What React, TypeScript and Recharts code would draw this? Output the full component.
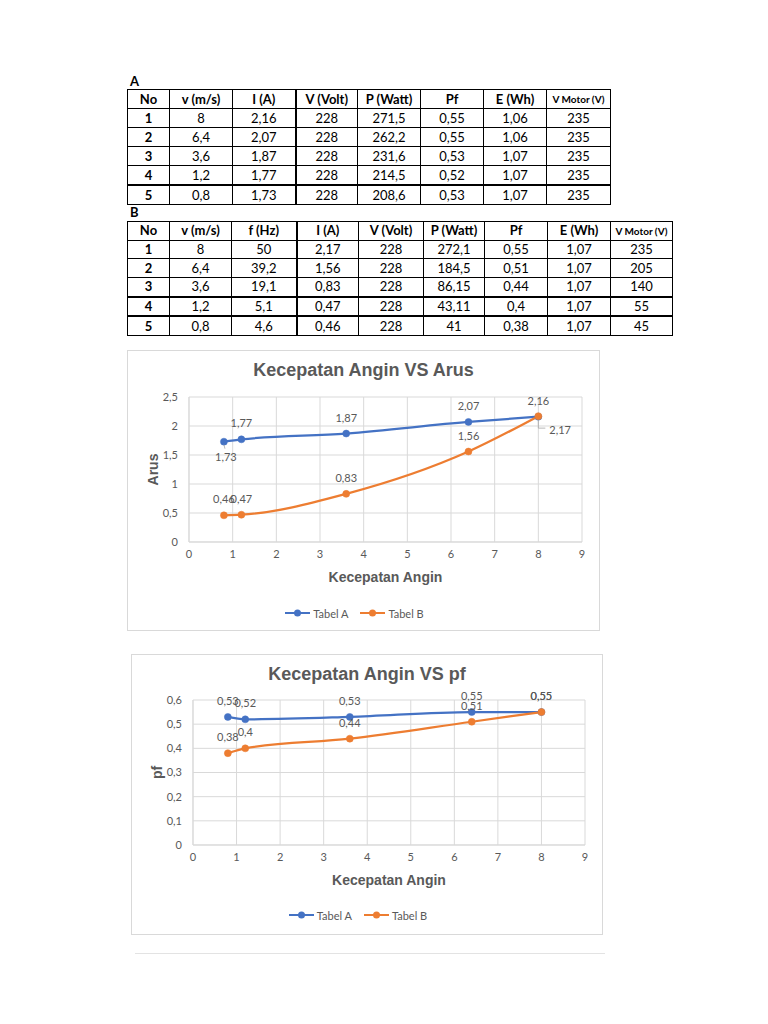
import React from "react";
import {
  LineChart,
  Line,
  XAxis,
  YAxis,
  CartesianGrid,
  Legend,
  LabelList,
  Label,
} from "recharts";

const NOS = [1, 2, 3, 4, 5];
const SPEED = [8, 6.4, 3.6, 1.2, 0.8];

const A_CURRENT = [2.16, 2.07, 1.87, 1.77, 1.73];
const A_VOLT = [228, 228, 228, 228, 228];
const A_POWER = [271.5, 262.2, 231.6, 214.5, 208.6];
const A_PF = [0.55, 0.55, 0.53, 0.52, 0.53];
const A_ENERGY = [1.06, 1.06, 1.07, 1.07, 1.07];
const A_VMOTOR = [235, 235, 235, 235, 235];

const B_FREQ = [50, 39.2, 19.1, 5.1, 4.6];
const B_CURRENT = [2.17, 1.56, 0.83, 0.47, 0.46];
const B_VOLT = [228, 228, 228, 228, 228];
const B_POWER = [272.1, 184.5, 86.15, 43.11, 41];
const B_PF = [0.55, 0.51, 0.44, 0.4, 0.38];
const B_ENERGY = [1.07, 1.07, 1.07, 1.07, 1.07];
const B_VMOTOR = [235, 205, 140, 55, 45];

const HEAD_A = ["No", "v (m/s)", "I (A)", "V (Volt)", "P (Watt)", "Pf", "E (Wh)", "V Motor (V)"];
const HEAD_B = ["No", "v (m/s)", "f (Hz)", "I (A)", "V (Volt)", "P (Watt)", "Pf", "E (Wh)", "V Motor (V)"];

const X_TICKS = [0, 1, 2, 3, 4, 5, 6, 7, 8, 9];
const ARUS_TICKS = [0, 0.5, 1, 1.5, 2, 2.5];
const PF_TICKS = [0, 0.1, 0.2, 0.3, 0.4, 0.5, 0.6];
const SERIES = ["Tabel A", "Tabel B"];

// where each data label sits, in table order
const ARUS_LABEL_A = ["top", "top", "top", "top", "bottom"];
const ARUS_LABEL_B = ["right", "top", "top", "top", "top"];
const PF_LABEL_A = ["top", "top", "top", "top", "top"];
const PF_LABEL_B = ["top", "top", "top", "top", "top"];

const BLUE = "#4472C4";
const ORANGE = "#ED7D31";
const GRID = "#D9D9D9";
const TEXT = "#595959";
const COLORS = [BLUE, ORANGE];

const fmt = (v: number) => String(v).replace(".", ",");

// charts need ascending x
const order = SPEED.map((_, i) => i).sort((p, q) => SPEED[p] - SPEED[q]);
const arusRows = order.map((i) => ({ i, v: SPEED[i], a: A_CURRENT[i], b: B_CURRENT[i] }));
const pfRows = order.map((i) => ({ i, v: SPEED[i], a: A_PF[i], b: B_PF[i] }));

function pointLabel(rows: { i: number }[], places: string[]) {
  return (props: any) => {
    const vb = props.viewBox || {};
    const x = props.x ?? vb.x;
    const y = props.y ?? vb.y;
    const idx = props.index ?? 0;
    const place = places[rows[idx] ? rows[idx].i : 0];
    const txt = fmt(Number(props.value));
    const common = { fill: TEXT, fontSize: 11, fontFamily: "Lato" };
    if (place === "bottom") {
      return (
        <g>
          <line x1={x} y1={y + 3} x2={x + 1} y2={y + 7} stroke="#A6A6A6" strokeWidth={0.8} />
          <text x={x + 2} y={y + 15} textAnchor="middle" dominantBaseline="central" {...common}>
            {txt}
          </text>
        </g>
      );
    }
    if (place === "right") {
      return (
        <g>
          <path d={`M${x},${y + 4} V${y + 12} H${x + 7}`} fill="none" stroke="#A6A6A6" strokeWidth={0.8} />
          <text x={x + 11} y={y + 13} textAnchor="start" dominantBaseline="central" {...common}>
            {txt}
          </text>
        </g>
      );
    }
    return (
      <text x={x} y={y - 16.5} textAnchor="middle" dominantBaseline="central" {...common}>
        {txt}
      </text>
    );
  };
}

const legendContent = (height: number) => () => (
  <div
    style={{
      display: "flex",
      justifyContent: "center",
      alignItems: "center",
      height,
      gap: 12,
      fontFamily: "Lato",
    }}
  >
    {SERIES.map((name, k) => (
      <div key={name} style={{ display: "flex", alignItems: "center" }}>
        <svg width={25} height={10}>
          <line x1={0} y1={5} x2={25} y2={5} stroke={COLORS[k]} strokeWidth={2} />
          <circle cx={12.5} cy={5} r={3.5} fill={COLORS[k]} />
        </svg>
        <span style={{ marginLeft: 3, fontSize: 11, color: TEXT }}>{name}</span>
      </div>
    ))}
  </div>
);

const xTitle = (props: any) => {
  const vb = props.viewBox;
  return (
    <text
      x={vb.x + vb.width / 2}
      y={vb.y + 35}
      textAnchor="middle"
      dominantBaseline="central"
      fill={TEXT}
      fontSize={14}
      fontWeight="bold"
      fontFamily="Liberation Sans"
    >
      Kecepatan Angin
    </text>
  );
};

const yTitle = (name: string) => (props: any) => {
  const vb = props.viewBox;
  const cx = vb.x + 26;
  const cy = vb.y + vb.height / 2;
  return (
    <text
      x={cx}
      y={cy}
      transform={`rotate(-90 ${cx} ${cy})`}
      textAnchor="middle"
      dominantBaseline="central"
      fill={TEXT}
      fontSize={14}
      fontWeight="bold"
      fontFamily="Liberation Sans"
    >
      {name}
    </text>
  );
};

type ChartProps = {
  left: number;
  top: number;
  width: number;
  height: number;
  title: string;
  yName: string;
  rows: any[];
  yTicks: number[];
  labelsA: string[];
  labelsB: string[];
  marginTop: number;
  axisH: number;
  legendH: number;
};

function SpeedChart(p: ChartProps) {
  return (
    <div
      style={{
        position: "absolute",
        left: p.left,
        top: p.top,
        width: p.width,
        height: p.height,
        outline: "1px solid #D9D9D9",
        outlineOffset: -1,
        fontFamily: "Lato",
      }}
    >
      <div
        style={{
          position: "absolute",
          top: 9,
          left: 0,
          width: "100%",
          textAlign: "center",
          fontFamily: "Liberation Sans",
          fontWeight: "bold",
          fontSize: 18,
          lineHeight: "22px",
          color: TEXT,
        }}
      >
        {p.title}
      </div>
      <LineChart
        width={p.width}
        height={p.height}
        data={p.rows}
        margin={{ top: p.marginTop, right: 18, bottom: 0, left: 0 }}
      >
        <CartesianGrid stroke={GRID} strokeWidth={1} />
        <XAxis
          dataKey="v"
          type="number"
          domain={[0, 9]}
          ticks={X_TICKS}
          interval={0}
          height={p.axisH}
          tickLine={false}
          axisLine={{ stroke: GRID }}
          tick={{ fill: TEXT, fontSize: 11 }}
          tickMargin={2}
        >
          <Label content={xTitle} />
        </XAxis>
        <YAxis
          type="number"
          domain={[p.yTicks[0], p.yTicks[p.yTicks.length - 1]]}
          ticks={p.yTicks}
          interval={0}
          width={62}
          tickLine={false}
          axisLine={{ stroke: GRID }}
          tick={{ fill: TEXT, fontSize: 11 }}
          tickFormatter={fmt}
          tickMargin={5}
        >
          <Label content={yTitle(p.yName)} />
        </YAxis>
        <Legend verticalAlign="bottom" height={p.legendH} content={legendContent(p.legendH)} />
        <Line
          name={SERIES[0]}
          type="monotone"
          dataKey="a"
          stroke={BLUE}
          strokeWidth={2.25}
          dot={{ r: 3.5, fill: BLUE, stroke: BLUE, strokeWidth: 0.5 }}
          activeDot={false}
          isAnimationActive={false}
        >
          <LabelList dataKey="a" content={pointLabel(p.rows, p.labelsA)} />
        </Line>
        <Line
          name={SERIES[1]}
          type="monotone"
          dataKey="b"
          stroke={ORANGE}
          strokeWidth={2.25}
          dot={{ r: 3.5, fill: ORANGE, stroke: ORANGE, strokeWidth: 0.5 }}
          activeDot={false}
          isAnimationActive={false}
        >
          <LabelList dataKey="b" content={pointLabel(p.rows, p.labelsB)} />
        </Line>
      </LineChart>
    </div>
  );
}

type TableProps = {
  left: number;
  top: number;
  widths: number[];
  rowH: number;
  head: string[];
  body: (number | string)[][];
  thickCol: number;
  thickRows: number[];
};

function DataTable(t: TableProps) {
  const total = t.widths.reduce((s, w) => s + w, 0);
  const cell = (r: number, c: number): React.CSSProperties => ({
    border: "1px solid #000",
    borderLeft: c === t.thickCol ? "2px solid #000" : "1px solid #000",
    borderTop: t.thickRows.includes(r) ? "2px solid #000" : "1px solid #000",
    padding: 0,
    height: t.rowH - 1,
    textAlign: "center",
    verticalAlign: "middle",
    lineHeight: 1,
    whiteSpace: "nowrap",
  });
  return (
    <table
      style={{
        position: "absolute",
        left: t.left,
        top: t.top,
        width: total,
        borderCollapse: "collapse",
        tableLayout: "fixed",
        fontFamily: "Lato",
        fontSize: 13,
        color: "#000",
      }}
    >
      <colgroup>
        {t.widths.map((w, k) => (
          <col key={k} style={{ width: w }} />
        ))}
      </colgroup>
      <tbody>
        <tr>
          {t.head.map((h, c) => (
            <td
              key={h}
              style={{
                ...cell(0, c),
                fontWeight: "bold",
                fontSize: h === "V Motor (V)" ? 10 : 13,
              }}
            >
              {h}
            </td>
          ))}
        </tr>
        {t.body.map((row, r) => (
          <tr key={r}>
            {row.map((v, c) => (
              <td key={c} style={{ ...cell(r + 1, c), fontWeight: c === 0 ? "bold" : "normal" }}>
                {typeof v === "number" ? fmt(v) : v}
              </td>
            ))}
          </tr>
        ))}
      </tbody>
    </table>
  );
}

const bodyA = NOS.map((n, i) => [n, SPEED[i], A_CURRENT[i], A_VOLT[i], A_POWER[i], A_PF[i], A_ENERGY[i], A_VMOTOR[i]]);
const bodyB = NOS.map((n, i) => [n, SPEED[i], B_FREQ[i], B_CURRENT[i], B_VOLT[i], B_POWER[i], B_PF[i], B_ENERGY[i], B_VMOTOR[i]]);

const tag = (txt: string, top: number): React.CSSProperties => ({
  position: "absolute",
  left: 130,
  top,
  fontFamily: "Lato",
  fontWeight: "bold",
  fontSize: 13,
  lineHeight: "14px",
});

export default function App() {
  return (
    <div style={{ position: "absolute", left: 0, top: 0, width: 768, height: 1024, background: "#fff" }}>
      <div style={tag("A", 74)}>A</div>
      <DataTable
        left={127}
        top={89}
        widths={[42, 63, 63, 62, 63, 63, 63, 64]}
        rowH={19}
        head={HEAD_A}
        body={bodyA}
        thickCol={3}
        thickRows={[5]}
      />
      <div style={tag("B", 205)}>B</div>
      <DataTable
        left={127}
        top={221}
        widths={[42, 62, 65, 62, 65, 61, 63, 63, 62]}
        rowH={18.7}
        head={HEAD_B}
        body={bodyB}
        thickCol={3}
        thickRows={[4, 5]}
      />
      <SpeedChart
        left={127}
        top={350}
        width={473}
        height={281}
        title="Kecepatan Angin VS Arus"
        yName="Arus"
        rows={arusRows}
        yTicks={ARUS_TICKS}
        labelsA={ARUS_LABEL_A}
        labelsB={ARUS_LABEL_B}
        marginTop={47}
        axisH={53}
        legendH={36}
      />
      <SpeedChart
        left={131}
        top={654}
        width={472}
        height={281}
        title="Kecepatan Angin VS pf"
        yName="pf"
        rows={pfRows}
        yTicks={PF_TICKS}
        labelsA={PF_LABEL_A}
        labelsB={PF_LABEL_B}
        marginTop={46}
        axisH={50}
        legendH={40}
      />
      <div style={{ position: "absolute", left: 135, top: 953, width: 470, height: 1, background: "#E3E3E3" }} />
    </div>
  );
}
